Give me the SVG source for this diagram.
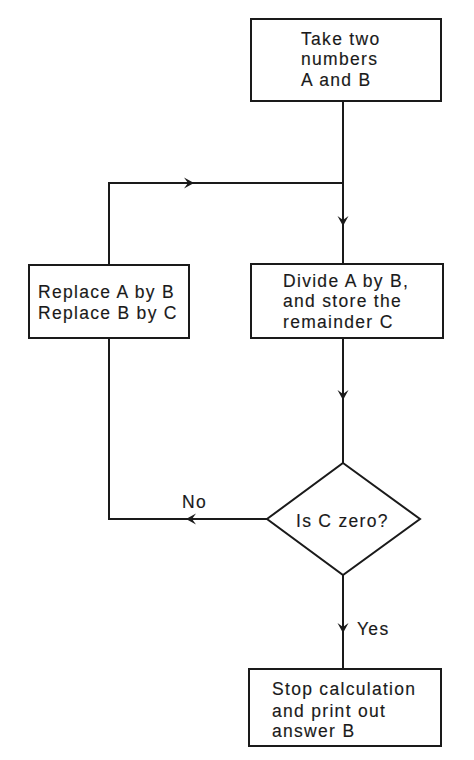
<svg xmlns="http://www.w3.org/2000/svg" width="474" height="760" viewBox="0 0 474 760">
<style>
.box{fill:#fff;stroke:#1a1a1a;stroke-width:2}
.ln{fill:none;stroke:#1a1a1a;stroke-width:2}
.ah{fill:#1a1a1a;stroke:none}
text{font-family:"Liberation Sans",Arial,sans-serif;font-size:17.5px;letter-spacing:1.3px;fill:#1a1a1a;stroke:#1a1a1a;stroke-width:0.15}
</style>
<defs>
<path id="arr" d="M0,0 L-10,-5.5 L-6,0 L-10,5.5 Z"/>
</defs>
<rect width="474" height="760" fill="#fff"/>
<g id="connectors">
<path class="ln" d="M343,101 V264"/>
<use href="#arr" class="ah" transform="translate(343,226) rotate(90)"/>
<path class="ln" d="M109,265 V183 H343"/>
<use href="#arr" class="ah" transform="translate(194,183)"/>
<path class="ln" d="M343,338 V463"/>
<use href="#arr" class="ah" transform="translate(343,400) rotate(90)"/>
<path class="ln" d="M267,519 H109 V338"/>
<use href="#arr" class="ah" transform="translate(186,519) rotate(180)"/>
<path class="ln" d="M343,575 V669"/>
<use href="#arr" class="ah" transform="translate(343,633) rotate(90)"/>
<text x="182" y="508">No</text>
<text x="357" y="635">Yes</text>
</g>
<g id="start">
<rect class="box" x="251" y="19" width="190" height="82"/>
<text x="301" y="45">Take two</text>
<text x="301" y="65">numbers</text>
<text x="301" y="86">A and B</text>
</g>
<g id="replace">
<rect class="box" x="29" y="265" width="160" height="73"/>
<text x="38" y="298">Replace A by B</text>
<text x="38" y="319">Replace B by C</text>
</g>
<g id="divide">
<rect class="box" x="251" y="264" width="192" height="74"/>
<text x="283" y="287">Divide A by B,</text>
<text x="283" y="307">and store the</text>
<text x="283" y="328">remainder C</text>
</g>
<g id="decision">
<polygon class="box" points="343,463 420,519 343,575 267,519"/>
<text x="296" y="527">Is C zero?</text>
</g>
<g id="stop">
<rect class="box" x="249" y="669" width="192" height="77"/>
<text x="272" y="695">Stop calculation</text>
<text x="272" y="717">and print out</text>
<text x="272" y="737">answer B</text>
</g>
</svg>
